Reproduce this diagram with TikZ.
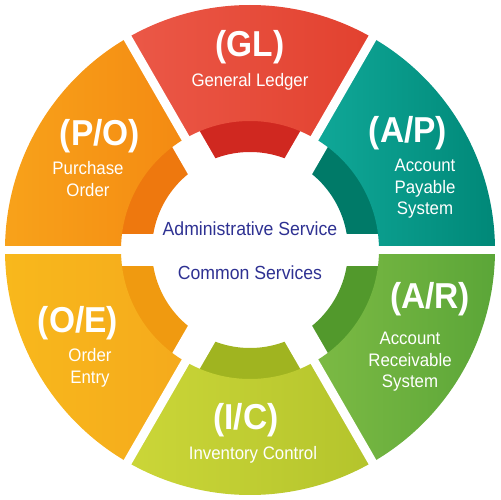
\documentclass[tikz,border=0pt]{standalone}
\usepackage{fontspec}
\setmainfont{Liberation Sans}
\newfontfamily\narrowsf[FakeStretch=0.93]{Liberation Sans}

\definecolor{glleft}{HTML}{EB5847}
\definecolor{glright}{HTML}{E2412F}
\definecolor{glinner}{HTML}{D02820}
\definecolor{apleft}{HTML}{10A898}
\definecolor{apright}{HTML}{008878}
\definecolor{apinner}{HTML}{007A68}
\definecolor{arleft}{HTML}{7CBA44}
\definecolor{arright}{HTML}{5BA638}
\definecolor{arinner}{HTML}{52992C}
\definecolor{icleft}{HTML}{CBD638}
\definecolor{icright}{HTML}{B4C42C}
\definecolor{icinner}{HTML}{A0B420}
\definecolor{oeleft}{HTML}{F8B81C}
\definecolor{oeright}{HTML}{F5AA1C}
\definecolor{oeinner}{HTML}{F09A10}
\definecolor{poleft}{HTML}{F8A21A}
\definecolor{poright}{HTML}{F48A12}
\definecolor{poinner}{HTML}{EE780E}
\definecolor{hubblue}{HTML}{2E3192}

\begin{document}
\begin{tikzpicture}[x=0.02cm,y=0.02cm,
    title/.style={text=white,font=\narrowsf\bfseries\fontsize{20.5}{22}\selectfont},
    subtitle/.style={text=white,align=center,font=\narrowsf\fontsize{10.3}{12.2}\selectfont},
    hubtext/.style={text=hubblue,font=\narrowsf\fontsize{10.8}{13}\selectfont}]
    \useasboundingbox (-250,-250) rectangle (250,250);

    % inner ring
    \fill [glinner] (60:98) arc[start angle=60,end angle=120,radius=98] -- (120:132) arc[start angle=120,end angle=60,radius=132] -- cycle;
    \fill [poinner] (120:98) arc[start angle=120,end angle=180,radius=98] -- (180:132) arc[start angle=180,end angle=120,radius=132] -- cycle;
    \fill [oeinner] (180:98) arc[start angle=180,end angle=240,radius=98] -- (240:132) arc[start angle=240,end angle=180,radius=132] -- cycle;
    \fill [icinner] (240:98) arc[start angle=240,end angle=300,radius=98] -- (300:132) arc[start angle=300,end angle=240,radius=132] -- cycle;
    \fill [arinner] (300:98) arc[start angle=300,end angle=360,radius=98] -- (360:132) arc[start angle=360,end angle=300,radius=132] -- cycle;
    \fill [apinner] (0:98) arc[start angle=0,end angle=60,radius=98] -- (60:132) arc[start angle=60,end angle=0,radius=132] -- cycle;

    \draw [white,line width=18pt] (180:134) -- (0:134);
    \draw [white,line width=18pt] (240:134) -- (60:134);
    \draw [white,line width=18pt] (300:134) -- (120:134);

    % outer ring
    \shade [left color=glleft,right color=glright] (60:129) arc[start angle=60,end angle=120,radius=129] -- (120:245) arc[start angle=120,end angle=60,radius=245] -- cycle;
    \shade [left color=poleft,right color=poright] (120:129) arc[start angle=120,end angle=180,radius=129] -- (180:245) arc[start angle=180,end angle=120,radius=245] -- cycle;
    \shade [left color=oeleft,right color=oeright] (180:129) arc[start angle=180,end angle=240,radius=129] -- (240:245) arc[start angle=240,end angle=180,radius=245] -- cycle;
    \shade [left color=icleft,right color=icright] (240:129) arc[start angle=240,end angle=300,radius=129] -- (300:245) arc[start angle=300,end angle=240,radius=245] -- cycle;
    \shade [left color=arleft,right color=arright] (300:129) arc[start angle=300,end angle=360,radius=129] -- (360:245) arc[start angle=360,end angle=300,radius=245] -- cycle;
    \shade [left color=apleft,right color=apright] (0:129) arc[start angle=0,end angle=60,radius=129] -- (60:245) arc[start angle=60,end angle=0,radius=245] -- cycle;

    \draw [white,line width=5pt] (180:250) -- (0:250);
    \draw [white,line width=5pt] (240:250) -- (60:250);
    \draw [white,line width=5pt] (300:250) -- (120:250);

    % labels
    \node [title] (gl) at (0,203) {(GL)};
    \node [subtitle] (glsub) at (0,168) {General Ledger};
    \node [title] (ap) at (158,117) {(A/P)};
    \node [subtitle] (apsub) at (175,61) {Account\\Payable\\System};
    \node [title] (ar) at (180,-49) {(A/R)};
    \node [subtitle] (arsub) at (160,-112) {Account\\Receivable\\System};
    \node [title] (ic) at (-4,-170) {(I/C)};
    \node [subtitle] (icsub) at (3,-205) {Inventory Control};
    \node [title] (oe) at (-172,-73) {(O/E)};
    \node [subtitle] (oesub) at (-160,-118) {Order\\Entry};
    \node [title] (po) at (-150,114) {(P/O)};
    \node [subtitle] (posub) at (-162,71) {Purchase\\Order};

    \node [hubtext] (admin) at (0,21) {Administrative Service};
    \node [hubtext] (common) at (0,-23) {Common Services};
\end{tikzpicture}
\end{document}
